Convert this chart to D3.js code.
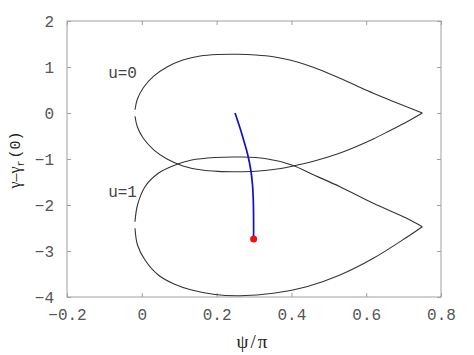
<!DOCTYPE html>
<html>
<head>
<meta charset="utf-8">
<script src="https://cdn.jsdelivr.net/npm/d3@7"></script>
<style>
html,body{margin:0;padding:0;background:#fff;}
svg{display:block;}
</style>
</head>
<body>
<svg id="chart" width="474" height="355"></svg>
<script>
// ---- data (ψ/π , γ−γr(0)) ----
const xTicks = [-0.2, 0, 0.2, 0.4, 0.6, 0.8];
const yTicks = [-4, -3, -2, -1, 0, 1, 2];

const loop0Upper = [[-0.0182,0.07],[-0.012,0.30],[0.004,0.55],[0.0318,0.80],[0.0674,1.00],[0.110,1.15],[0.156,1.24],[0.204,1.272],[0.2545,1.276],[0.305,1.261],[0.352,1.224],[0.396,1.152],[0.441,1.043],[0.4845,0.913],[0.530,0.754],[0.574,0.591],[0.619,0.428],[0.664,0.278],[0.708,0.137],[0.750,0.0]];
const loop0Lower = [[-0.0182,-0.07],[-0.012,-0.30],[0.004,-0.55],[0.0318,-0.80],[0.0674,-1.00],[0.110,-1.15],[0.156,-1.235],[0.204,-1.27],[0.2545,-1.276],[0.305,-1.265],[0.352,-1.228],[0.396,-1.167],[0.441,-1.087],[0.4845,-0.989],[0.530,-0.870],[0.574,-0.728],[0.619,-0.565],[0.664,-0.380],[0.708,-0.196],[0.750,0.0]];
const loop1Upper = [[-0.0182,-2.363],[-0.0115,-2.0],[0.0086,-1.602],[0.0441,-1.311],[0.0861,-1.141],[0.1334,-1.022],[0.1957,-0.967],[0.2626,-0.957],[0.3294,-0.989],[0.4008,-1.130],[0.4631,-1.359],[0.5299,-1.602],[0.6190,-1.963],[0.7083,-2.289],[0.7500,-2.472]];
const loop1Lower = [[-0.0182,-2.507],[-0.0115,-2.870],[0.0086,-3.196],[0.0441,-3.522],[0.0861,-3.717],[0.1334,-3.848],[0.1957,-3.946],[0.2626,-3.972],[0.3516,-3.920],[0.4409,-3.776],[0.5299,-3.522],[0.6190,-3.159],[0.7083,-2.702],[0.7500,-2.472]];
const trajectory = [[0.2492,0],[0.2626,-0.326],[0.2746,-0.652],[0.284,-0.935],[0.2914,-1.239],[0.296,-1.565],[0.2981,-1.891],[0.2989,-2.326],[0.2989,-2.728]];
const endPoint = [0.299,-2.739];
const curveLabels = [{text:"u=0", x:-0.09, y:0.76},{text:"u=1", x:-0.09, y:-1.83}];

// ---- layout ----
const svg = d3.select("#chart");
const L = 67, R = 441, T = 21, B = 297;
const x = d3.scaleLinear().domain([-0.2, 0.8]).range([L, R]);
const y = d3.scaleLinear().domain([-4, 2]).range([B, T]);
const axisColor = "#a0a0a0";
const mono = "'Liberation Mono','DejaVu Sans Mono',monospace";
const serif = "'Liberation Serif','DejaVu Serif',serif";

// frame
svg.append("rect").attr("x", L).attr("y", T).attr("width", R - L).attr("height", B - T)
  .attr("fill", "none").attr("stroke", axisColor).attr("stroke-width", 1);

function styleAxis(g) {
  g.select(".domain").remove();
  g.selectAll(".tick line").attr("stroke", axisColor);
  g.selectAll(".tick text").attr("fill", "#555").attr("font-family", mono).attr("font-size", 16);
}
const fmt = d => (d === 0 ? "0" : (Number.isInteger(d) ? String(d) : d3.format(".1f")(d))).replace("-", "\u2212");
svg.append("g").attr("transform", `translate(0,${B})`)
  .call(d3.axisBottom(x).tickValues(xTicks).tickSize(-4).tickPadding(12).tickFormat(fmt))
  .call(styleAxis);
svg.append("g").attr("transform", `translate(0,${T})`)
  .call(d3.axisTop(x).tickValues(xTicks).tickSize(-4).tickFormat(""))
  .call(styleAxis);
svg.append("g").attr("transform", `translate(${L},0)`)
  .call(d3.axisLeft(y).tickValues(yTicks).tickSize(-4).tickPadding(13).tickFormat(fmt))
  .call(styleAxis);
svg.append("g").attr("transform", `translate(${R},0)`)
  .call(d3.axisRight(y).tickValues(yTicks).tickSize(-4).tickFormat(""))
  .call(styleAxis);

// curves
const line = d3.line().x(d => x(d[0])).y(d => y(d[1])).curve(d3.curveCatmullRom.alpha(0.5));
[loop0Upper, loop0Lower, loop1Upper, loop1Lower].forEach(arr => {
  svg.append("path").attr("d", line(arr)).attr("fill", "none")
    .attr("stroke", "#333").attr("stroke-width", 1.1);
});
svg.append("path").attr("d", line(trajectory)).attr("fill", "none")
  .attr("stroke", "#1010c8").attr("stroke-width", 1.7);
svg.append("circle").attr("cx", x(endPoint[0])).attr("cy", y(endPoint[1])).attr("r", 3.5).attr("fill", "#ee1111");

// curve labels
curveLabels.forEach(l => {
  svg.append("text").attr("x", x(l.x)).attr("y", y(l.y)).attr("fill", "#444")
    .attr("font-family", mono).attr("font-size", 16).text(l.text);
});

// axis titles
svg.append("text").attr("x", 253).attr("y", 348).attr("text-anchor", "middle")
  .attr("font-family", serif).attr("font-size", 19).attr("letter-spacing", 2).attr("fill", "#222")
  .text("\u03C8/\u03C0");
const yl = svg.append("text").attr("transform", "translate(20,160) rotate(-90)").attr("text-anchor", "middle")
  .attr("fill", "#222").attr("font-size", 16);
yl.append("tspan").attr("font-family", serif).attr("font-size", 16).text("\u03B3\u2013\u03B3");
yl.append("tspan").attr("font-family", mono).attr("font-size", 10).attr("dy", 4).text("r");
yl.append("tspan").attr("font-family", mono).attr("font-size", 15).attr("dy", -4).attr("dx", 2).text("(0)");
</script>
</body>
</html>
